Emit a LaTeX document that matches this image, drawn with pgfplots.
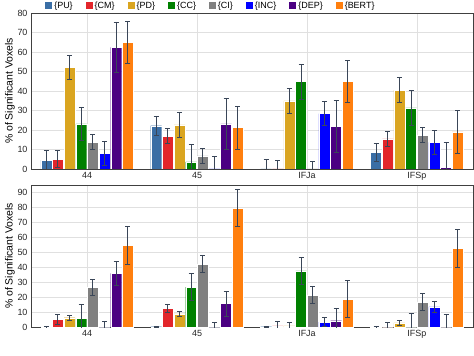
\documentclass[border=0pt]{standalone}
\usepackage{pgfplots}
\pgfplotsset{compat=1.18}
\usepackage{pgfplotstable}
\usepackage{fontspec}
\setmainfont{Liberation Sans}
\definecolor{cPU}{HTML}{3A6EA5}
\definecolor{cCM}{HTML}{E2262B}
\definecolor{cPD}{HTML}{DAA520}
\definecolor{cCC}{HTML}{008000}
\definecolor{cCI}{HTML}{808080}
\definecolor{cINC}{HTML}{0000FF}
\definecolor{cDEP}{HTML}{4B0082}
\definecolor{cBERT}{HTML}{FF7F0E}
\definecolor{errc}{HTML}{3A4658}

\pgfplotstableread{
x PU PUe CM CMe PD PDe CC CCe CI CIe INC INCe DEP DEPe BERT BERTe
0 4.6 5.0 5.1 4.2 52.1 6.2 23.1 8.7 13.8 4.0 8.0 6.1 62.4 13.0 64.8 10.7
1 22.2 5.0 16.9 3.9 22.6 6.2 3.6 8.9 6.7 3.9 0 6.2 23.1 13.1 21.2 11.0
2 0 5.0 0 4.3 34.9 6.2 44.8 8.9 0 3.9 28.4 6.2 21.9 13.3 44.8 10.7
3 8.4 4.7 15.4 4.0 40.5 6.2 31.3 8.8 17.4 4.0 13.7 6.1 0.7 13.1 19.1 11.0
}\toptab

\pgfplotstableread{
x PU PUe CM CMe PD PDe CC CCe CI CIe INC INCe DEP DEPe BERT BERTe
0 0.3 0.2 5.1 3.4 6.2 1.8 5.6 9.3 26.5 5.5 0 3.6 35.9 8.0 54.6 12.5
1 0.2 0.2 12.5 2.9 8.7 1.9 26.7 9.0 42.1 5.6 0 3.3 15.6 8.3 79.5 12.5
2 0.2 0.2 0.7 3.3 0.7 2.2 37.6 9.0 21.4 5.6 3.3 3.2 4.2 8.3 18.7 12.5
3 0.3 0.2 0 3.3 2.7 1.8 0 9.1 16.5 5.7 13.4 3.6 0 8.2 52.6 12.5
}\bottab

\pgfplotsset{
  mybars/.style={
    scale only axis, width=442bp,
    xmin=-0.51, xmax=3.51, ymin=0,
    xtick={0,1,2,3}, xticklabels={44,45,IFJa,IFSp},
    ybar, bar width=0.1,
    grid=major, major grid style={draw=black!12, line width=0.6bp},
    axis line style={draw=black!75, line width=0.8bp},
    major tick length=0pt,
    tick label style={font=\fontsize{9}{10}\selectfont, text=black!85},
    /pgf/number format/assume math mode=true,
    ylabel={\% of Significant Voxels},
    ylabel style={font=\fontsize{10.5}{12}\selectfont, at={(axis description cs:-0.0475,0.5)}, anchor=center},
    every axis plot/.append style={draw=white, line width=0.4bp},
    legend image code/.code={\draw[##1,/tikz/.cd,draw=none] (0bp,-3.5bp) rectangle (7bp,3.5bp);},
  },
  eb/.style={error bars/.cd, y dir=both, y explicit,
    error bar style={draw=errc, line width=0.9bp},
    error mark options={rotate=90, draw=errc, line width=0.9bp, mark size=2.5bp}},
}

\begin{document}
\begin{tikzpicture}
\path[use as bounding box] (-31bp,-29bp) rectangle (443bp,327bp);

\begin{axis}[mybars, at={(0bp,158bp)}, anchor=south west, height=156bp,
  ymax=80, ytick={0,10,...,80},
  legend columns=8,
  legend style={at={(rel axis cs:0.407,1)}, anchor=south, yshift=1bp, draw=none, fill=none,
    font=\fontsize{9}{10}\selectfont, inner sep=0pt,
    /tikz/every even column/.append style={column sep=11bp}},
  ]
\addplot[fill=cPU, bar shift=-0.371, eb] table[x=x,y=PU,y error=PUe]{\toptab};
\addplot[fill=cCM, bar shift=-0.265, eb] table[x=x,y=CM,y error=CMe]{\toptab};
\addplot[fill=cPD, bar shift=-0.159, eb] table[x=x,y=PD,y error=PDe]{\toptab};
\addplot[fill=cCC, bar shift=-0.053, eb] table[x=x,y=CC,y error=CCe]{\toptab};
\addplot[fill=cCI, bar shift=0.053, eb] table[x=x,y=CI,y error=CIe]{\toptab};
\addplot[fill=cINC, bar shift=0.159, eb] table[x=x,y=INC,y error=INCe]{\toptab};
\addplot[fill=cDEP, bar shift=0.265, eb] table[x=x,y=DEP,y error=DEPe]{\toptab};
\addplot[fill=cBERT, bar shift=0.371, eb] table[x=x,y=BERT,y error=BERTe]{\toptab};
\legend{\{PU\},\{CM\},\{PD\},\{CC\},\{CI\},\{INC\},\{DEP\},\{BERT\}}
\end{axis}

\begin{axis}[mybars, at={(0bp,0bp)}, anchor=south west, height=142bp,
  ymax=95, ytick={0,10,...,90}]
\addplot[fill=cPU, bar shift=-0.371, eb] table[x=x,y=PU,y error=PUe]{\bottab};
\addplot[fill=cCM, bar shift=-0.265, eb] table[x=x,y=CM,y error=CMe]{\bottab};
\addplot[fill=cPD, bar shift=-0.159, eb] table[x=x,y=PD,y error=PDe]{\bottab};
\addplot[fill=cCC, bar shift=-0.053, eb] table[x=x,y=CC,y error=CCe]{\bottab};
\addplot[fill=cCI, bar shift=0.053, eb] table[x=x,y=CI,y error=CIe]{\bottab};
\addplot[fill=cINC, bar shift=0.159, eb] table[x=x,y=INC,y error=INCe]{\bottab};
\addplot[fill=cDEP, bar shift=0.265, eb] table[x=x,y=DEP,y error=DEPe]{\bottab};
\addplot[fill=cBERT, bar shift=0.371, eb] table[x=x,y=BERT,y error=BERTe]{\bottab};
\end{axis}
\end{tikzpicture}
\end{document}
